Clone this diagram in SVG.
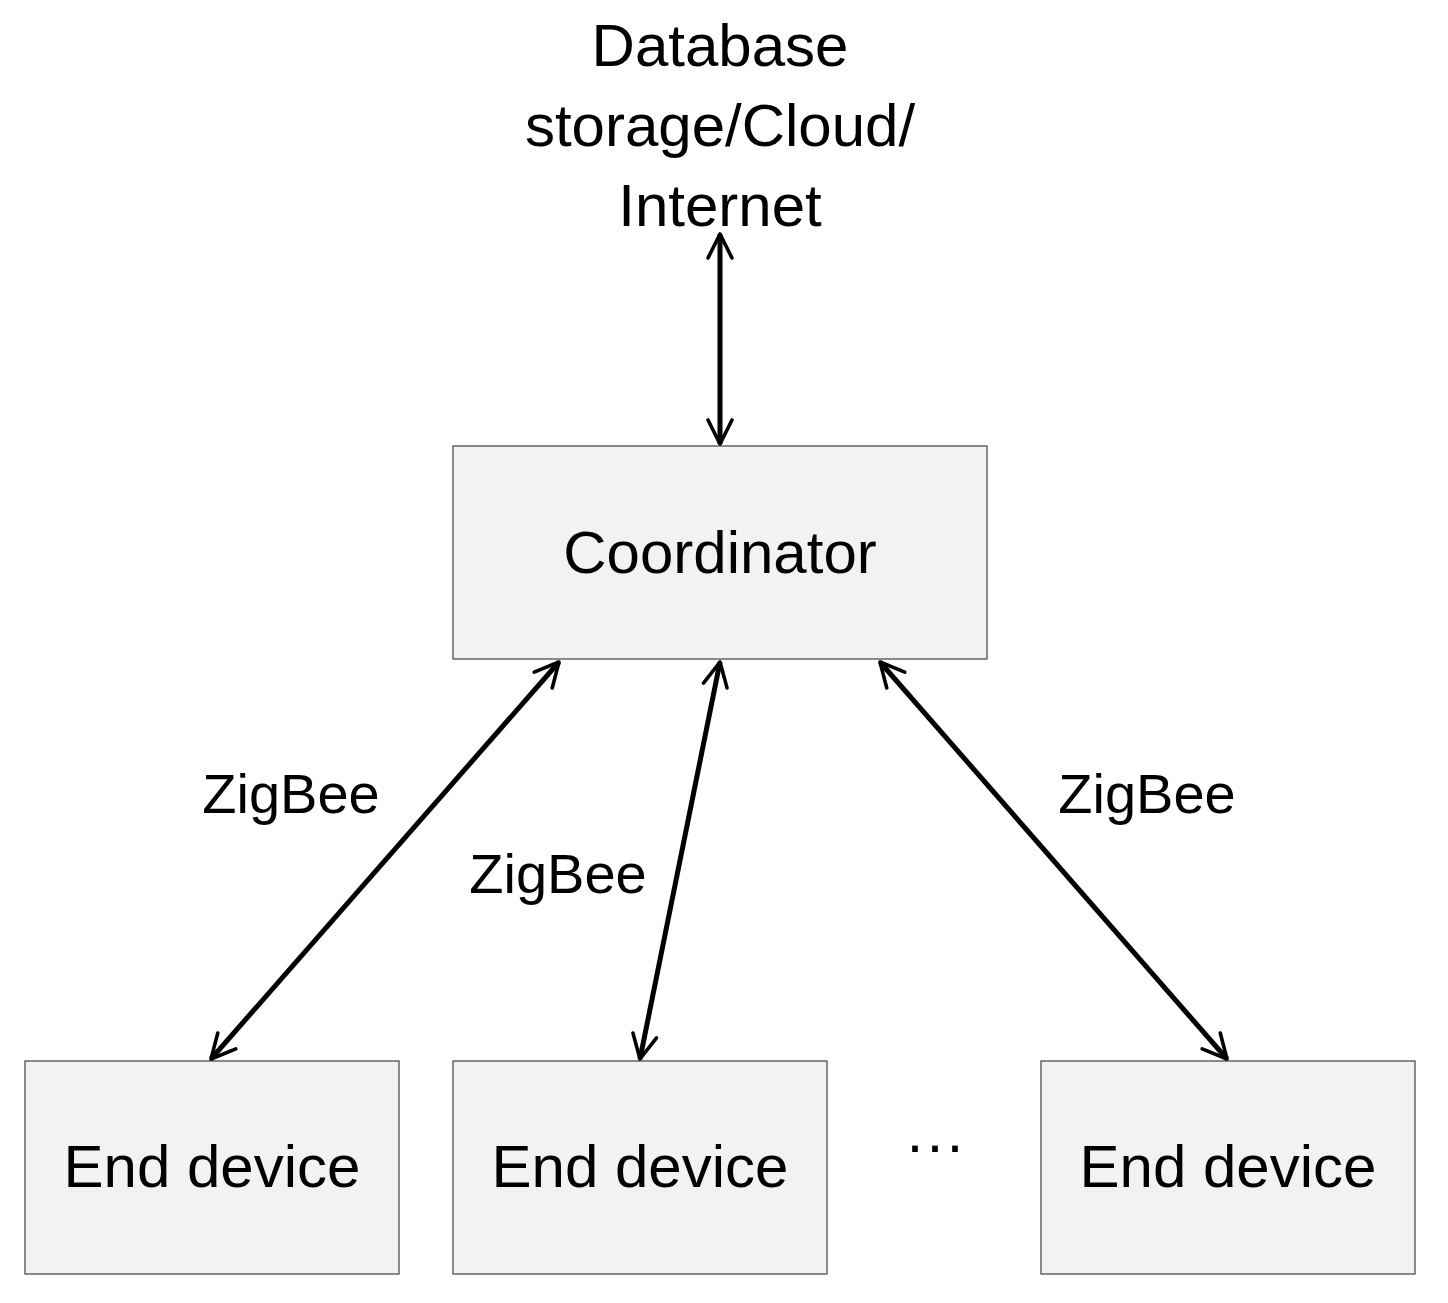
<svg xmlns="http://www.w3.org/2000/svg" width="1448" height="1303" viewBox="0 0 1448 1303">
<style>
.box{fill:#f2f2f2;stroke:#404040;stroke-width:1.2}
.t{font-family:"Liberation Sans",Arial,sans-serif;font-size:60px;fill:#000;text-anchor:middle}
.l{font-family:"Liberation Sans",Arial,sans-serif;font-size:56px;fill:#000;text-anchor:middle}
.c{stroke:#000;stroke-width:5;fill:none}
</style>
<defs>
<marker id="h" viewBox="0 0 10 10" refX="9" refY="5" markerWidth="6" markerHeight="6" orient="auto-start-reverse" markerUnits="strokeWidth">
<polyline points="1,1 9,5 1,9" fill="none" stroke="#000" stroke-width="1.2" stroke-linecap="round" stroke-linejoin="round"/>
</marker>
</defs>
<rect width="1448" height="1303" fill="#fff"/>
<g id="cloud"><text class="t" x="720" y="66">Database</text><text class="t" x="720" y="146">storage/Cloud/</text><text class="t" x="720" y="226">Internet</text></g>
<g id="coordinator"><rect class="box" x="453" y="446" width="534" height="213"/><text class="t" x="720" y="573">Coordinator</text></g>
<g id="end1"><rect class="box" x="25" y="1061" width="374" height="213"/><text class="t" x="212" y="1187">End device</text></g>
<g id="end2"><rect class="box" x="453" y="1061" width="374" height="213"/><text class="t" x="640" y="1187">End device</text></g>
<g id="end3"><rect class="box" x="1041" y="1061" width="374" height="213"/><text class="t" x="1228" y="1187">End device</text></g>
<g id="dots"><text class="t" x="935" y="1165">···</text></g>
<g id="connectors">
<line class="c" x1="720" y1="234" x2="720" y2="444" marker-start="url(#h)" marker-end="url(#h)"/>
<line class="c" x1="559" y1="662" x2="211" y2="1059" marker-start="url(#h)" marker-end="url(#h)"/>
<line class="c" x1="720" y1="662" x2="640" y2="1059" marker-start="url(#h)" marker-end="url(#h)"/>
<line class="c" x1="880" y1="662" x2="1227" y2="1059" marker-start="url(#h)" marker-end="url(#h)"/>
<text class="l" x="291" y="813">ZigBee</text>
<text class="l" x="558" y="893">ZigBee</text>
<text class="l" x="1147" y="813">ZigBee</text>
</g>
</svg>
